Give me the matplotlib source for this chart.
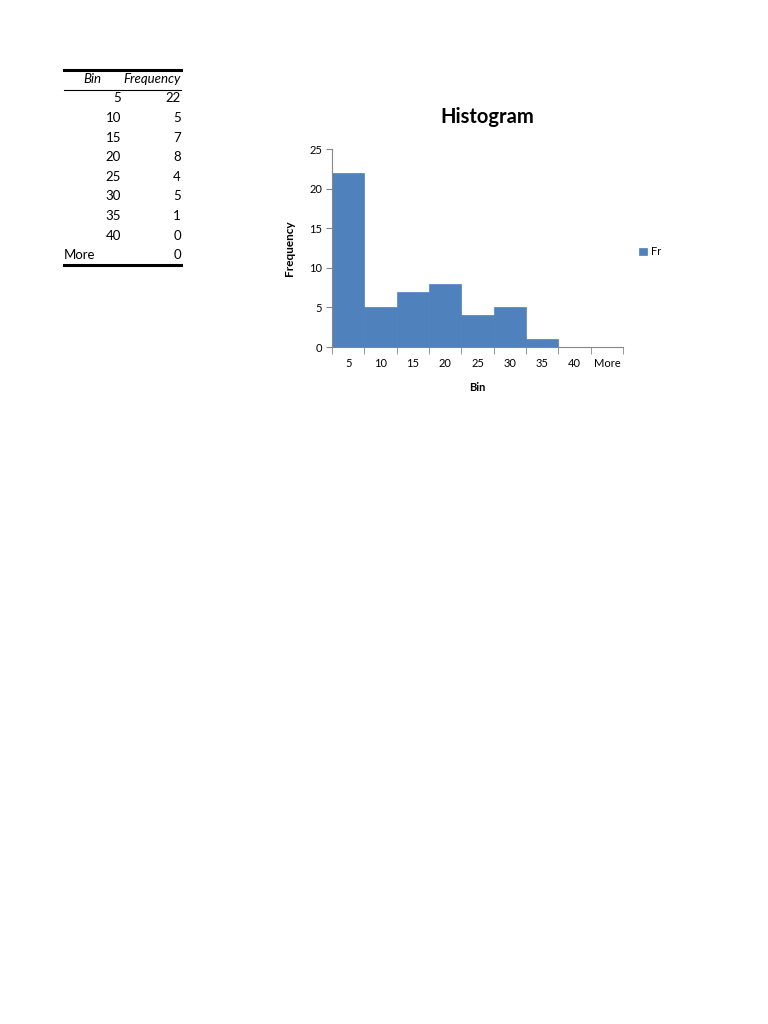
import numpy as np
import matplotlib.pyplot as plt

plt.rcParams['font.family'] = ['Lato', 'DejaVu Sans']

bins = ['5', '10', '15', '20', '25', '30', '35', '40', 'More']
freq = [22, 5, 7, 8, 4, 5, 1, 0, 0]

bar_color = '#4F81BD'
axis_color = '#868686'

fig = plt.figure(figsize=(7.68, 10.24), dpi=100)

# --- the little frequency table in the top-left corner
tab = fig.add_axes([0, 0, 1, 1])
tab.set_xlim(0, 768)
tab.set_ylim(1024, 0)
tab.axis('off')
tab.plot([64, 181], [70, 70], color='black', lw=2.2)
tab.plot([64, 181], [89.5, 89.5], color='black', lw=0.8)
tab.plot([64, 181], [265, 265], color='black', lw=2.2)
tab.text(101, 79, 'Bin', ha='right', va='center', style='italic', fontsize=9.5)
tab.text(181, 79, 'Frequency', ha='right', va='center', style='italic', fontsize=9.5)
row_y = 98.5
for b, f in zip(bins, freq):
    if b == 'More':
        tab.text(64, row_y, b, ha='left', va='center', fontsize=9.5)
    else:
        tab.text(121, row_y, b, ha='right', va='center', fontsize=9.5)
    tab.text(181, row_y, str(f), ha='right', va='center', fontsize=9.5)
    row_y += 19.6

# --- the histogram chart
ax = fig.add_axes([332 / 768, 1 - 347 / 1024, 291 / 768, 198 / 1024])
x = np.arange(len(bins))
bars = ax.bar(x, freq, width=1.0, color=bar_color, edgecolor=bar_color, lw=0.5, label='Fr')
ax.set_xlim(-0.5, len(bins) - 0.5)
ax.set_ylim(0, 25)
ax.set_yticks([0, 5, 10, 15, 20, 25])
ax.set_xticks(x)
ax.set_xticklabels(bins)
ax.set_xticks(np.arange(len(bins) + 1) - 0.5, minor=True)
ax.tick_params(axis='x', which='major', length=0, pad=8, labelsize=8)
ax.tick_params(axis='x', which='minor', length=5, color=axis_color, direction='out')
ax.tick_params(axis='y', length=4, color=axis_color, labelsize=8, pad=3)
for s in ['top', 'right']:
    ax.spines[s].set_visible(False)
for s in ['left', 'bottom']:
    ax.spines[s].set_color(axis_color)
    ax.spines[s].set_linewidth(0.8)

fig.text(487 / 768, 1 - 117 / 1024, 'Histogram', fontsize=14.5, fontweight='bold',
         ha='center', va='center')
ax.set_xlabel('Bin', fontsize=8, fontweight='bold', labelpad=9)
ax.set_ylabel('Frequency', fontsize=8.5, fontweight='bold', labelpad=10)

leg = ax.legend(loc='center left', bbox_to_anchor=(1.02, 0.48), frameon=False,
                fontsize=8, handlelength=0.7, handleheight=0.7, handletextpad=0.4)

fig.savefig('out.png', dpi=100)
